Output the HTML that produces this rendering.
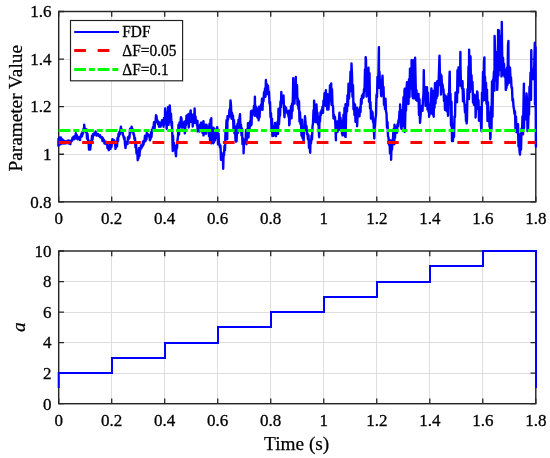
<!DOCTYPE html><html><head><meta charset="utf-8"><style>html,body{margin:0;padding:0;background:#fff;overflow:hidden}svg{display:block}</style></head><body><svg width="550" height="458" viewBox="0 0 550 458"><rect width="550" height="458" fill="#fff"/><path d="M111.50 11.5V201.85M164.50 11.5V201.85M217.50 11.5V201.85M270.50 11.5V201.85M323.50 11.5V201.85M376.50 11.5V201.85M429.50 11.5V201.85M482.50 11.5V201.85M58.7 154.50H535.8M58.7 106.50H535.8M58.7 59.50H535.8" stroke="#dedede" stroke-width="1" fill="none"/><path d="M111.50 251.0V403.7M164.50 251.0V403.7M217.50 251.0V403.7M270.50 251.0V403.7M323.50 251.0V403.7M376.50 251.0V403.7M429.50 251.0V403.7M482.50 251.0V403.7M58.7 373.50H535.8M58.7 342.50H535.8M58.7 312.50H535.8M58.7 281.50H535.8" stroke="#dedede" stroke-width="1" fill="none"/><path d="M58.70 201.85v-5.3M58.70 11.5v5.3M111.71 201.85v-5.3M111.71 11.5v5.3M164.72 201.85v-5.3M164.72 11.5v5.3M217.73 201.85v-5.3M217.73 11.5v5.3M270.74 201.85v-5.3M270.74 11.5v5.3M323.76 201.85v-5.3M323.76 11.5v5.3M376.77 201.85v-5.3M376.77 11.5v5.3M429.78 201.85v-5.3M429.78 11.5v5.3M482.79 201.85v-5.3M482.79 11.5v5.3M535.80 201.85v-5.3M535.80 11.5v5.3M58.7 201.85h5.3M535.8 201.85h-5.3M58.7 154.26h5.3M535.8 154.26h-5.3M58.7 106.67h5.3M535.8 106.67h-5.3M58.7 59.09h5.3M535.8 59.09h-5.3M58.7 11.50h5.3M535.8 11.50h-5.3" stroke="#262626" stroke-width="1.3" fill="none"/><path d="M58.70 403.7v-5.3M58.70 251.0v5.3M111.71 403.7v-5.3M111.71 251.0v5.3M164.72 403.7v-5.3M164.72 251.0v5.3M217.73 403.7v-5.3M217.73 251.0v5.3M270.74 403.7v-5.3M270.74 251.0v5.3M323.76 403.7v-5.3M323.76 251.0v5.3M376.77 403.7v-5.3M376.77 251.0v5.3M429.78 403.7v-5.3M429.78 251.0v5.3M482.79 403.7v-5.3M482.79 251.0v5.3M535.80 403.7v-5.3M535.80 251.0v5.3M58.7 403.70h5.3M535.8 403.70h-5.3M58.7 373.16h5.3M535.8 373.16h-5.3M58.7 342.62h5.3M535.8 342.62h-5.3M58.7 312.08h5.3M535.8 312.08h-5.3M58.7 281.54h5.3M535.8 281.54h-5.3M58.7 251.00h5.3M535.8 251.00h-5.3" stroke="#262626" stroke-width="1.3" fill="none"/><rect x="58.7" y="11.5" width="477.10" height="190.35" stroke="#262626" stroke-width="1.45" fill="none"/><rect x="58.7" y="251.0" width="477.10" height="152.70" stroke="#262626" stroke-width="1.45" fill="none"/><path d="M58.4 146.6 58.5 138.7 59.0 143.1 59.5 140.1 59.6 137.4 60.0 144.2 60.5 139.6 60.8 137.4 60.8 144.2 61.0 141.4 61.5 138.8 62.0 141.2 62.5 139.3 63.0 143.6 63.5 143.2 64.0 140.7 64.5 141.4 65.0 143.6 65.5 141.3 66.0 141.6 66.5 141.6 67.0 143.2 67.5 140.8 68.0 142.1 68.5 140.5 69.0 143.5 69.5 142.2 70.0 143.8 70.4 144.2 70.5 140.6 71.0 141.6 71.5 140.6 72.0 140.7 72.5 137.8 73.0 139.4 73.5 136.7 74.0 139.4 74.5 137.9 75.0 135.9 75.5 138.4 75.8 133.2 76.0 134.2 76.5 136.5 77.0 135.3 77.5 138.7 77.6 139.4 78.0 137.1 78.5 139.1 79.0 137.3 79.5 137.8 80.0 140.0 80.5 136.3 81.0 136.7 81.5 133.6 82.0 136.4 82.5 131.8 83.0 133.5 83.5 129.0 84.0 131.2 84.2 124.8 84.5 127.9 85.0 129.4 85.5 128.8 86.0 132.0 86.5 129.5 87.0 138.6 87.5 133.9 88.0 140.3 88.5 140.0 89.0 149.6 89.5 146.3 90.0 144.8 90.2 149.6 90.5 147.4 91.0 141.2 91.5 141.6 92.0 135.8 92.5 139.7 93.0 134.3 93.5 135.7 94.0 133.5 94.5 134.7 95.0 132.9 95.5 134.3 95.6 131.4 96.0 133.1 96.5 135.6 97.0 134.0 97.5 134.6 98.0 134.0 98.5 135.7 99.0 135.3 99.5 136.6 100.0 135.2 100.5 137.4 101.0 137.2 101.5 138.2 102.0 137.0 102.5 141.1 103.0 138.2 103.5 140.6 104.0 140.1 104.5 143.5 105.0 142.3 105.5 143.7 106.0 141.6 106.5 144.4 107.0 142.9 107.5 148.2 108.0 146.1 108.5 146.8 108.8 150.2 109.0 146.2 109.5 146.9 110.0 143.0 110.5 148.8 111.0 142.9 111.5 147.0 112.0 141.4 112.4 139.2 112.5 142.3 113.0 141.9 113.5 141.8 114.0 140.1 114.5 143.3 115.0 141.9 115.5 148.8 116.0 146.4 116.5 141.4 117.0 146.5 117.5 137.9 118.0 141.1 118.5 133.8 119.0 136.1 119.5 131.7 120.0 134.2 120.5 129.9 120.9 126.8 121.0 131.5 121.5 128.8 122.0 132.2 122.5 132.3 123.0 135.2 123.5 136.1 124.0 138.7 124.5 137.4 125.0 144.3 125.5 148.1 126.0 142.3 126.5 144.3 127.0 141.6 127.5 144.1 128.0 137.2 128.5 139.3 129.0 136.1 129.5 137.8 130.0 128.9 130.5 132.6 131.0 128.3 131.5 130.8 131.6 126.8 132.0 129.2 132.5 131.1 133.0 129.5 133.5 134.6 134.0 134.4 134.5 139.3 135.0 137.8 135.5 147.4 136.0 143.9 136.5 153.5 137.0 151.0 137.5 155.5 137.7 160.2 138.0 152.0 138.5 158.5 139.0 148.1 139.5 155.9 140.0 148.5 140.5 149.6 141.0 145.4 141.5 148.0 142.0 145.7 142.5 146.3 143.0 141.5 143.5 144.5 144.0 141.2 144.5 140.5 145.0 135.6 145.5 141.2 146.0 135.7 146.5 139.2 146.8 132.8 147.0 133.1 147.5 136.0 148.0 134.5 148.5 135.9 149.0 135.0 149.5 136.5 149.9 140.4 150.0 135.1 150.5 139.1 151.0 132.3 151.5 137.0 152.0 129.6 152.5 131.0 153.0 127.2 153.5 128.5 154.0 122.2 154.5 129.5 155.0 123.0 155.5 122.0 156.0 115.3 156.5 116.1 157.0 121.5 157.5 120.6 158.0 124.2 158.5 122.0 159.0 126.7 159.5 125.6 160.0 122.7 160.5 124.7 160.6 126.7 161.0 122.8 161.5 124.6 162.0 120.2 162.5 123.0 163.0 121.7 163.5 121.8 163.6 126.7 164.0 118.0 164.5 123.6 165.0 115.6 165.1 108.4 165.5 118.3 166.0 112.1 166.5 125.9 166.7 129.0 167.0 117.8 167.5 123.3 168.0 107.1 168.5 124.9 169.0 110.2 169.5 121.1 169.7 105.4 170.0 109.4 170.5 122.2 171.0 113.8 171.5 125.6 172.0 122.0 172.5 144.0 172.8 151.1 173.0 135.6 173.5 149.4 174.0 143.0 174.5 148.9 175.0 146.2 175.5 152.4 176.0 156.2 176.5 145.4 177.0 148.2 177.5 140.0 178.0 136.3 178.5 124.6 179.0 134.6 179.5 122.4 180.0 126.6 180.5 121.7 180.9 117.3 181.0 124.6 181.5 118.2 182.0 127.7 182.5 122.5 183.0 125.0 183.5 124.2 184.0 127.6 184.5 121.5 184.8 133.4 185.0 131.9 185.5 124.2 186.0 125.1 186.5 115.6 187.0 120.1 187.5 114.9 188.0 122.9 188.5 114.0 188.7 127.5 189.0 124.3 189.5 117.3 190.0 118.6 190.5 110.8 190.7 110.4 191.0 121.8 191.5 117.6 192.0 119.7 192.5 115.0 192.7 126.5 193.0 118.5 193.5 114.1 194.0 123.1 194.5 114.3 194.6 108.4 195.0 120.1 195.5 116.4 196.0 122.8 196.5 120.4 197.0 125.7 197.5 121.0 197.6 131.4 198.0 130.5 198.5 126.2 199.0 131.0 199.5 131.4 200.0 124.8 200.5 130.8 201.0 122.8 201.5 130.1 202.0 122.8 202.5 132.9 203.0 127.1 203.5 121.2 203.5 135.4 204.0 133.4 204.5 124.4 205.0 129.2 205.5 125.5 206.0 133.7 206.5 124.6 207.0 130.3 207.5 126.4 208.0 130.0 208.5 127.8 209.0 136.2 209.5 123.8 210.0 140.2 210.5 119.7 211.0 130.7 211.3 118.3 211.3 143.2 211.5 130.7 212.0 142.9 212.5 133.4 213.0 140.3 213.3 143.2 213.5 127.6 214.0 142.3 214.5 128.6 215.0 140.5 215.5 134.8 216.0 135.2 216.5 135.0 217.0 137.6 217.2 127.1 217.5 129.7 218.0 144.5 218.5 133.6 219.0 144.3 219.5 143.9 220.0 147.6 220.5 145.6 221.0 159.9 221.5 152.7 222.0 159.8 222.5 154.8 223.0 161.5 223.2 168.8 223.5 155.9 224.0 155.2 224.5 145.9 225.0 150.1 225.5 131.2 226.0 133.0 226.5 120.2 227.0 132.3 227.2 139.2 227.5 116.1 228.0 119.9 228.5 116.3 229.0 116.6 229.5 109.5 230.0 116.4 230.5 100.4 231.0 105.6 231.5 118.7 232.0 112.8 232.5 116.5 233.0 115.5 233.5 129.0 234.0 120.1 234.5 133.4 235.0 126.6 235.5 140.5 235.6 141.5 236.0 126.8 236.5 141.5 237.0 131.6 237.5 123.8 238.0 132.9 238.5 119.6 239.0 127.7 239.5 118.0 240.0 114.3 240.5 127.6 241.0 124.9 241.5 135.5 242.0 128.5 242.5 144.1 243.0 138.5 243.5 145.1 243.6 153.2 244.0 141.1 244.5 142.9 245.0 139.8 245.5 142.4 246.0 130.1 246.5 144.2 247.0 129.4 247.5 137.6 248.0 123.1 248.5 137.5 249.0 124.1 249.5 129.6 250.0 121.4 250.5 125.9 251.0 111.3 251.5 124.7 252.0 110.8 252.5 114.1 253.0 112.2 253.5 112.6 254.0 105.9 254.5 115.8 254.9 96.8 255.0 104.5 255.5 109.1 256.0 106.6 256.5 116.3 257.0 108.4 257.5 117.7 258.0 111.7 258.5 114.2 258.7 120.4 259.0 106.7 259.5 117.5 260.0 109.7 260.5 109.9 261.0 104.8 261.5 108.6 262.0 98.7 262.5 109.9 263.0 98.9 263.5 101.2 264.0 92.3 264.5 95.2 265.0 88.5 265.5 96.8 265.9 80.0 266.0 83.5 266.5 89.7 267.0 84.1 267.5 94.0 268.0 85.8 268.5 94.7 269.0 91.7 269.5 103.8 270.0 101.9 270.5 117.2 271.0 113.3 271.5 129.4 272.0 118.8 272.4 136.0 272.5 135.4 273.0 126.0 273.5 135.9 274.0 127.3 274.5 131.7 275.0 122.9 275.5 127.3 276.0 136.2 276.5 125.3 277.0 130.3 277.5 121.8 278.0 133.9 278.5 108.7 279.0 124.2 279.5 115.3 280.0 115.6 280.5 101.5 281.0 107.2 281.3 92.0 281.5 101.6 282.0 102.7 282.5 101.0 283.0 103.1 283.5 95.5 284.0 109.5 284.5 117.2 285.0 106.4 285.5 110.2 286.0 107.6 286.5 111.2 287.0 111.8 287.5 113.5 288.0 111.1 288.5 116.7 289.0 110.8 289.2 125.2 289.5 124.4 290.0 113.5 290.5 116.4 291.0 106.2 291.5 118.4 292.0 103.6 292.5 110.9 293.0 92.1 293.2 78.3 293.5 97.5 294.0 92.6 294.5 103.6 295.0 88.5 295.5 90.9 295.8 77.0 296.0 90.4 296.5 97.9 297.0 84.9 297.5 104.7 298.0 99.0 298.5 109.0 299.0 101.1 299.5 121.4 300.0 112.3 300.5 124.1 301.0 120.4 301.5 135.8 302.0 119.8 302.5 137.9 303.0 127.9 303.5 139.4 303.6 142.2 304.0 129.3 304.5 128.3 305.0 116.3 305.5 122.2 306.0 129.8 306.5 126.1 307.0 134.3 307.5 133.3 308.0 139.3 308.5 135.2 309.0 147.9 309.5 142.5 310.0 151.0 310.2 152.7 310.5 140.0 311.0 143.4 311.5 135.6 312.0 139.5 312.5 126.6 313.0 123.1 313.5 110.1 314.0 121.9 314.1 100.6 314.5 110.5 315.0 117.6 315.5 107.1 316.0 122.3 316.5 104.5 317.0 116.8 317.5 112.8 318.0 124.5 318.5 121.4 319.0 135.3 319.2 137.2 319.5 116.8 320.0 121.5 320.5 112.3 321.0 114.8 321.5 110.1 322.0 111.6 322.5 106.7 323.0 112.9 323.5 100.5 324.0 104.0 324.5 93.2 325.0 105.4 325.5 99.1 325.9 90.1 326.0 106.1 326.5 97.4 327.0 100.9 327.2 109.5 327.5 94.2 328.0 109.3 328.5 109.5 329.0 96.9 329.5 100.9 330.0 85.2 330.5 98.8 331.0 85.3 331.2 83.5 331.5 104.7 332.0 89.2 332.5 105.3 333.0 105.9 333.5 118.5 334.0 114.9 334.5 118.9 335.0 116.8 335.5 127.2 335.9 140.2 336.0 121.9 336.5 128.9 337.0 121.5 337.5 132.0 338.0 128.3 338.5 127.0 339.0 119.3 339.5 112.6 340.0 129.7 340.5 117.7 341.0 124.5 341.5 120.9 342.0 134.0 342.5 126.5 342.6 135.4 343.0 128.6 343.5 114.6 344.0 130.3 344.5 107.9 345.0 136.2 345.5 104.2 345.6 136.9 346.0 117.7 346.5 106.4 347.0 111.4 347.5 95.3 348.0 105.6 348.5 83.7 349.0 98.7 349.5 88.7 350.0 91.5 350.5 71.8 351.0 87.4 351.5 63.5 352.0 74.9 352.5 96.6 353.0 85.3 353.5 109.1 354.0 103.2 354.5 115.2 355.0 104.5 355.5 121.9 356.0 107.8 356.5 116.5 357.0 107.8 357.1 126.2 357.5 117.8 358.0 110.3 358.5 114.9 359.0 109.4 359.5 116.4 360.0 107.2 360.5 112.1 361.0 99.0 361.5 104.0 362.0 95.4 362.5 98.3 363.0 93.9 363.5 97.5 364.0 89.1 364.5 90.9 365.0 69.4 365.5 79.6 365.7 57.1 366.0 60.2 366.5 96.5 367.0 80.7 367.5 95.5 368.0 80.0 368.5 67.7 369.0 101.8 369.5 73.2 370.0 108.3 370.5 102.3 371.0 118.6 371.5 110.6 372.0 118.4 372.5 112.3 373.0 122.0 373.5 119.5 374.0 133.5 374.3 138.5 374.5 129.1 375.0 125.1 375.5 118.0 376.0 115.0 376.5 94.8 377.0 97.2 377.5 76.9 378.0 86.1 378.5 71.0 378.9 47.1 379.0 87.9 379.5 71.8 380.0 86.2 380.5 79.7 381.0 94.0 381.3 96.2 381.5 82.2 382.0 85.6 382.5 75.7 383.0 93.1 383.5 86.9 384.0 104.8 384.5 99.0 385.0 109.1 385.5 98.6 386.0 111.4 386.5 113.1 387.0 127.6 387.5 122.0 388.0 136.3 388.5 137.4 389.0 144.9 389.5 139.9 390.0 153.4 390.5 140.4 391.0 151.7 391.1 159.8 391.5 145.1 392.0 149.8 392.5 141.1 393.0 138.3 393.5 129.3 394.0 138.3 394.3 144.2 394.5 124.8 395.0 138.0 395.5 126.5 396.0 128.5 396.5 126.4 397.0 132.7 397.5 124.1 398.0 126.1 398.5 120.1 399.0 120.4 399.5 111.4 400.0 122.0 400.1 104.5 400.5 116.5 401.0 127.9 401.5 110.3 401.6 128.9 402.0 117.3 402.5 114.6 403.0 116.6 403.5 97.1 404.0 126.2 404.5 90.3 404.7 88.8 404.7 131.9 405.0 128.6 405.5 105.8 406.0 110.7 406.5 89.1 407.0 82.3 407.5 101.7 408.0 88.3 408.5 104.1 409.0 79.3 409.5 97.2 410.0 68.6 410.5 88.8 411.0 69.7 411.5 82.9 411.6 60.2 412.0 75.8 412.5 96.5 413.0 70.4 413.1 60.2 413.1 98.2 413.5 80.4 414.0 98.2 414.5 60.9 415.0 93.6 415.1 57.8 415.5 76.9 416.0 99.7 416.5 90.3 417.0 100.8 417.5 95.4 418.0 100.5 418.5 93.9 419.0 114.9 419.5 99.2 420.0 122.8 420.5 116.9 421.0 109.7 421.5 111.2 422.0 105.6 422.5 110.9 423.0 98.3 423.5 94.2 423.8 70.1 424.0 83.5 424.5 99.0 425.0 87.0 425.5 105.7 426.0 90.9 426.5 100.5 427.0 87.3 427.5 109.4 428.0 92.7 428.5 111.6 429.0 104.8 429.1 116.7 429.5 113.8 430.0 105.6 430.5 104.8 431.0 102.6 431.4 88.4 431.5 113.2 432.0 100.9 432.5 114.2 433.0 90.9 433.5 115.2 433.7 116.7 434.0 93.9 434.5 107.9 435.0 83.1 435.5 103.5 436.0 88.5 436.5 98.4 437.0 81.4 437.5 95.9 438.0 81.3 438.5 85.4 439.0 70.7 439.5 55.6 440.0 80.0 440.5 73.9 441.0 94.5 441.5 75.8 442.0 87.7 442.5 84.3 443.0 88.5 443.5 89.5 444.0 101.0 444.5 94.8 445.0 109.9 445.5 95.7 446.0 110.5 446.5 102.0 447.0 111.4 447.5 96.7 448.0 115.8 448.5 93.6 449.0 99.6 449.5 76.5 449.7 71.6 450.0 96.4 450.5 93.6 451.0 125.5 451.5 101.6 452.0 141.1 452.5 131.0 453.0 141.1 453.5 123.9 454.0 136.9 454.5 116.4 455.0 117.0 455.5 92.7 456.0 99.9 456.5 92.1 457.0 102.2 457.5 70.1 458.0 92.8 458.5 67.4 459.0 85.3 459.5 69.0 460.0 85.6 460.4 52.0 460.5 66.2 461.0 85.8 461.5 81.6 462.0 88.4 462.5 81.3 463.0 101.3 463.5 89.0 464.0 100.2 464.5 104.0 465.0 112.5 465.5 104.9 466.0 121.0 466.5 107.8 466.7 123.4 467.0 118.8 467.5 89.1 468.0 98.5 468.5 66.4 469.0 99.0 469.1 49.7 469.5 69.6 470.0 92.1 470.5 56.4 471.0 89.3 471.5 75.3 472.0 88.9 472.5 82.0 473.0 102.4 473.5 97.9 474.0 104.8 474.5 94.6 475.0 105.6 475.5 105.9 475.6 117.5 476.0 107.6 476.5 95.9 477.0 109.1 477.1 91.5 477.5 92.7 478.0 107.4 478.5 100.2 479.0 120.8 479.5 112.1 480.0 114.9 480.5 107.3 481.0 125.4 481.5 131.2 482.0 92.6 482.5 101.4 483.0 71.9 483.5 100.0 484.0 61.9 484.4 57.4 484.5 95.5 485.0 76.8 485.5 100.2 486.0 82.7 486.5 103.6 487.0 89.6 487.5 121.0 488.0 102.1 488.5 119.6 489.0 112.2 489.5 126.6 490.0 125.8 490.3 139.2 490.5 137.3 491.0 106.7 491.5 128.8 492.0 81.4 492.5 116.7 493.0 79.7 493.5 79.8 494.0 71.4 494.5 90.5 494.6 36.0 495.0 47.9 495.5 68.7 496.0 52.0 496.5 80.5 497.0 63.7 497.2 89.9 497.5 84.3 498.0 58.9 498.1 29.9 498.5 75.5 499.0 30.5 499.5 70.0 500.0 38.9 500.5 64.7 501.0 35.9 501.5 76.4 501.8 21.9 502.0 43.6 502.5 74.6 503.0 57.6 503.5 71.0 504.0 63.9 504.5 76.7 505.0 69.7 505.5 76.7 505.8 89.9 506.0 71.1 506.5 88.0 507.0 67.8 507.5 85.1 508.0 45.4 508.4 41.0 508.5 67.0 509.0 66.3 509.5 82.6 510.0 67.8 510.5 78.5 511.0 77.4 511.5 87.7 512.0 87.5 512.5 100.8 513.0 99.0 513.5 106.5 514.0 109.1 514.5 113.8 515.0 111.3 515.5 129.8 516.0 116.7 516.5 132.1 517.0 129.0 517.5 132.7 518.0 124.1 518.5 146.2 519.0 138.2 519.5 150.6 520.0 154.6 520.5 134.3 521.0 149.6 521.5 128.8 522.0 132.4 522.5 116.2 523.0 134.4 523.5 105.1 523.9 83.6 524.0 128.0 524.5 97.6 525.0 111.4 525.5 99.1 526.0 119.2 526.5 93.4 527.0 99.6 527.5 131.1 528.0 129.9 528.5 114.0 529.0 114.8 529.5 86.8 530.0 95.9 530.5 72.6 531.0 99.8 531.3 50.2 531.5 69.8 532.0 75.4 532.5 69.8 533.0 79.1 533.5 69.2 534.0 75.6 534.5 55.9 534.8 42.8 535.0 104.6 535.5 47.3 535.9 146.7 536.0 144.0" stroke="#0000ff" stroke-width="2.4" fill="none" stroke-linejoin="round"/><path d="M58.7 142.5H535.8" stroke="#ff0000" stroke-width="3" stroke-dasharray="11.75 11.7" fill="none"/><path d="M58.7 130.5H535.8" stroke="#00ff00" stroke-width="3" stroke-dasharray="11.75 2.9 5.9 2.9" fill="none"/><path d="M58.7 388.00V373.00H112.00V358.00H165.00V343.00H218.00V327.00H271.00V312.00H324.00V297.00H377.00V282.00H430.00V266.00H483.00V251.00H536V388.00" stroke="#0000ff" stroke-width="2" fill="none"/><g font-family="Liberation Serif, serif" font-size="17.0" fill="#000" stroke="#000" stroke-width="0.3"><text transform="translate(58.70,223.75) scale(1,1.0)" text-anchor="middle">0</text><text transform="translate(58.70,425.80) scale(1,1.0)" text-anchor="middle">0</text><text transform="translate(111.71,223.75) scale(1,1.0)" text-anchor="middle">0.2</text><text transform="translate(111.71,425.80) scale(1,1.0)" text-anchor="middle">0.2</text><text transform="translate(164.72,223.75) scale(1,1.0)" text-anchor="middle">0.4</text><text transform="translate(164.72,425.80) scale(1,1.0)" text-anchor="middle">0.4</text><text transform="translate(217.73,223.75) scale(1,1.0)" text-anchor="middle">0.6</text><text transform="translate(217.73,425.80) scale(1,1.0)" text-anchor="middle">0.6</text><text transform="translate(270.74,223.75) scale(1,1.0)" text-anchor="middle">0.8</text><text transform="translate(270.74,425.80) scale(1,1.0)" text-anchor="middle">0.8</text><text transform="translate(323.76,223.75) scale(1,1.0)" text-anchor="middle">1</text><text transform="translate(323.76,425.80) scale(1,1.0)" text-anchor="middle">1</text><text transform="translate(376.77,223.75) scale(1,1.0)" text-anchor="middle">1.2</text><text transform="translate(376.77,425.80) scale(1,1.0)" text-anchor="middle">1.2</text><text transform="translate(429.78,223.75) scale(1,1.0)" text-anchor="middle">1.4</text><text transform="translate(429.78,425.80) scale(1,1.0)" text-anchor="middle">1.4</text><text transform="translate(482.79,223.75) scale(1,1.0)" text-anchor="middle">1.6</text><text transform="translate(482.79,425.80) scale(1,1.0)" text-anchor="middle">1.6</text><text transform="translate(535.80,223.75) scale(1,1.0)" text-anchor="middle">1.8</text><text transform="translate(535.80,425.80) scale(1,1.0)" text-anchor="middle">1.8</text><text transform="translate(51.60,207.65) scale(1,1.0)" text-anchor="end">0.8</text><text transform="translate(51.60,160.06) scale(1,1.0)" text-anchor="end">1</text><text transform="translate(51.60,112.47) scale(1,1.0)" text-anchor="end">1.2</text><text transform="translate(51.60,64.89) scale(1,1.0)" text-anchor="end">1.4</text><text transform="translate(51.60,17.30) scale(1,1.0)" text-anchor="end">1.6</text><text transform="translate(51.60,409.50) scale(1,1.0)" text-anchor="end">0</text><text transform="translate(51.60,378.96) scale(1,1.0)" text-anchor="end">2</text><text transform="translate(51.60,348.42) scale(1,1.0)" text-anchor="end">4</text><text transform="translate(51.60,317.88) scale(1,1.0)" text-anchor="end">6</text><text transform="translate(51.60,287.34) scale(1,1.0)" text-anchor="end">8</text><text transform="translate(51.60,256.80) scale(1,1.0)" text-anchor="end">10</text></g><g font-family="Liberation Serif, serif" font-size="19.3" fill="#000" stroke="#000" stroke-width="0.25"><text x="296.7" y="449.8" text-anchor="middle">Time (s)</text><text transform="translate(21.5,108.3) rotate(-90)" text-anchor="middle">Parameter Value</text><text transform="translate(25.4,327.3) rotate(-90)" text-anchor="middle" font-style="italic">a</text></g><rect x="70.5" y="20.5" width="112.1" height="60.3" fill="#fff" stroke="#1e1e1e" stroke-width="1.15"/><path d="M74.2 32H119" stroke="#0000ff" stroke-width="2"/><path d="M74.2 50.5H119" stroke="#ff0000" stroke-width="3" stroke-dasharray="11.75 11.7"/><path d="M74.2 69.5H119" stroke="#00ff00" stroke-width="3" stroke-dasharray="11.75 2.9 5.9 2.9"/><g font-family="Liberation Serif, serif" font-size="15.4" fill="#000" stroke="#000" stroke-width="0.3"><text transform="translate(122.30,36.90) scale(1,1.08)" text-anchor="start">FDF</text><text transform="translate(122.30,55.70) scale(1,1.08)" text-anchor="start">ΔF=0.05</text><text transform="translate(122.30,74.50) scale(1,1.08)" text-anchor="start">ΔF=0.1</text></g></svg></body></html>
